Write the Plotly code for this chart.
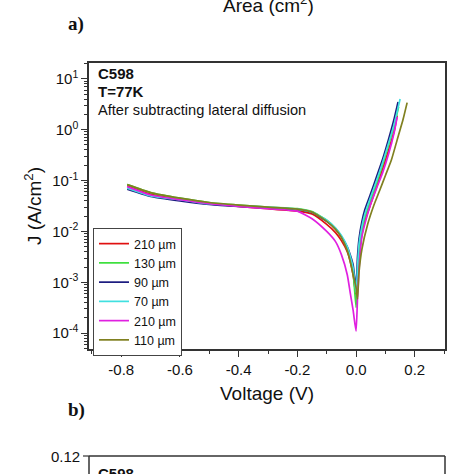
import plotly.graph_objects as go

# ---------------- data ----------------
series_names = ["210 µm", "130 µm", "90 µm", "70 µm", "210 µm", "110 µm"]
series_colors = ["#e01010", "#3ee03e", "#1c1c80", "#40e0e0", "#e020e0", "#808020"]

V_rev = [-0.78, -0.70, -0.60, -0.50, -0.40, -0.30, -0.20, -0.15, -0.10, -0.07, -0.05, -0.03, -0.02, -0.01]

V_red = V_rev + [0.0, 0.005, 0.01, 0.02, 0.03, 0.05, 0.07, 0.09, 0.11, 0.13, 0.14]
J_red = [7.9e-2, 5.4e-2, 4.2e-2, 3.5e-2, 3.1e-2, 2.8e-2, 2.5e-2, 2.2e-2, 1.38e-2, 9.5e-3, 6.6e-3, 4.0e-3, 2.6e-3, 1.4e-3,
         5.4e-4, 1.26e-3, 3.5e-3, 8.9e-3, 1.58e-2, 3.5e-2, 7.6e-2, 0.166, 0.38, 0.95, 1.9]

V_green = V_rev + [0.0, 0.005, 0.01, 0.02, 0.03, 0.05, 0.07, 0.09, 0.11, 0.13, 0.145]
J_green = [8.3e-2, 5.8e-2, 4.5e-2, 3.7e-2, 3.3e-2, 3.0e-2, 2.8e-2, 2.45e-2, 1.66e-2, 1.15e-2, 7.9e-3, 4.7e-3, 3.0e-3, 1.58e-3,
           3.2e-4, 1.26e-3, 4.0e-3, 1.0e-2, 1.9e-2, 4.2e-2, 8.9e-2, 0.20, 0.48, 1.2, 2.8]

V_navy = V_rev + [0.0, 0.005, 0.01, 0.02, 0.03, 0.05, 0.07, 0.09, 0.11, 0.13, 0.143]
J_navy = [6.8e-2, 4.9e-2, 4.0e-2, 3.4e-2, 3.1e-2, 2.9e-2, 2.7e-2, 2.35e-2, 1.58e-2, 1.12e-2, 7.9e-3, 5.0e-3, 3.5e-3, 2.2e-3,
          7.9e-4, 3.2e-3, 7.1e-3, 1.58e-2, 2.7e-2, 5.6e-2, 0.12, 0.26, 0.63, 1.66, 3.5]

V_cyan = V_rev + [0.0, 0.005, 0.01, 0.02, 0.03, 0.05, 0.07, 0.09, 0.11, 0.13, 0.15]
J_cyan = [7.1e-2, 5.0e-2, 4.2e-2, 3.5e-2, 3.2e-2, 3.0e-2, 2.75e-2, 2.4e-2, 1.66e-2, 1.17e-2, 8.3e-3, 5.0e-3, 3.3e-3, 1.9e-3,
          6.3e-4, 2.0e-3, 5.6e-3, 1.26e-2, 2.2e-2, 4.8e-2, 0.10, 0.22, 0.52, 1.3, 4.0]

V_magenta = V_rev + [0.0, 0.005, 0.01, 0.02, 0.03, 0.05, 0.07, 0.09, 0.11, 0.13, 0.14]
J_magenta = [7.6e-2, 5.2e-2, 4.2e-2, 3.5e-2, 3.1e-2, 2.8e-2, 2.5e-2, 1.78e-2, 1.0e-2, 6.3e-3, 3.5e-3, 1.41e-3, 6.3e-4, 2.8e-4,
             1.1e-4, 5.0e-4, 1.78e-3, 7.9e-3, 1.41e-2, 3.5e-2, 7.1e-2, 0.14, 0.32, 0.89, 1.78]

V_olive = V_rev + [0.0, 0.005, 0.01, 0.02, 0.04, 0.06, 0.08, 0.10, 0.12, 0.14, 0.16, 0.174]
J_olive = [8.3e-2, 5.8e-2, 4.5e-2, 3.7e-2, 3.3e-2, 3.0e-2, 2.75e-2, 2.4e-2, 1.58e-2, 1.1e-2, 7.6e-3, 4.2e-3, 2.6e-3, 1.41e-3,
           7.9e-4, 4.7e-4, 1.58e-3, 4.5e-3, 1.41e-2, 3.2e-2, 6.3e-2, 0.126, 0.25, 0.63, 1.58, 3.4]

all_V = [V_red, V_green, V_navy, V_cyan, V_magenta, V_olive]
all_J = [J_red, J_green, J_navy, J_cyan, J_magenta, J_olive]

x_ticks = [-0.8, -0.6, -0.4, -0.2, 0.0, 0.2]
x_ticklabels = ["-0.8", "-0.6", "-0.4", "-0.2", "0.0", "0.2"]
x_minor = [-0.9, -0.7, -0.5, -0.3, -0.1, 0.1, 0.3]
y_ticks = [1e-4, 1e-3, 1e-2, 1e-1, 1e0, 1e1]
y_ticklabels = ["10<sup>-4</sup>", "10<sup>-3</sup>", "10<sup>-2</sup>", "10<sup>-1</sup>", "10<sup>0</sup>", "10<sup>1</sup>"]
y_minor = [m * d for d in [1e-5, 1e-4, 1e-3, 1e-2, 1e-1, 1e0, 1e1] for m in range(2, 10)]

# ---------------- layout helpers ----------------
W, H = 474, 474
L, R, T, B = 89, 445, 63, 349


def px_x(p):
    return (p - L) / (R - L)


def px_y(p):
    return (B - p) / (B - T)


FONT = "Liberation Sans, Arial, sans-serif"
AXC = "#333333"

fig = go.Figure()
for name, col, v, j in zip(series_names, series_colors, all_V, all_J):
    fig.add_trace(go.Scatter(x=v, y=j, mode="lines", name=name,
                             line=dict(color=col, width=1.7, shape="spline", smoothing=0.5)))

fig.update_layout(
    width=W, height=H,
    margin=dict(l=L, r=W - R, t=T, b=H - B),
    paper_bgcolor="white", plot_bgcolor="white",
    font=dict(family=FONT, color="#111111", size=14),
    showlegend=True,
    legend=dict(x=px_x(93), y=px_y(228), xanchor="left", yanchor="top",
                bgcolor="white", bordercolor="#444444", borderwidth=1,
                font=dict(size=12.5, family=FONT), tracegroupgap=0,
                itemwidth=30),
)

fig.update_xaxes(range=[-0.91, 0.303], tickmode="array", tickvals=x_ticks, ticktext=x_ticklabels,
                 ticks="outside", ticklen=6, tickwidth=1.2, tickcolor=AXC,
                 minor=dict(tickmode="array", tickvals=x_minor, ticks="outside", ticklen=3,
                            tickcolor=AXC, showgrid=False),
                 showline=True, linecolor=AXC, linewidth=1.5, mirror=True,
                 showgrid=False, zeroline=False,
                 tickfont=dict(size=15, family=FONT),
                 title=dict(text="Voltage (V)", font=dict(size=19, family=FONT), standoff=10))

fig.update_yaxes(type="log", range=[-4.31, 1.31], tickmode="array", tickvals=y_ticks, ticktext=y_ticklabels,
                 ticks="outside", ticklen=6, tickwidth=1.2, tickcolor=AXC,
                 minor=dict(tickmode="array", tickvals=y_minor, ticks="outside", ticklen=3,
                            tickcolor=AXC, showgrid=False),
                 showline=True, linecolor=AXC, linewidth=1.5, mirror=True,
                 showgrid=False, zeroline=False,
                 tickfont=dict(size=15, family=FONT),
                 title=dict(text="J (A/cm<sup>2</sup>)", font=dict(size=19, family=FONT), standoff=6))

# in-plot annotations
fig.add_annotation(x=px_x(96), y=px_y(73), xref="paper", yref="paper", xanchor="left", yanchor="middle",
                   text="<b>C598</b>", showarrow=False, font=dict(size=15, family=FONT))
fig.add_annotation(x=px_x(96), y=px_y(92), xref="paper", yref="paper", xanchor="left", yanchor="middle",
                   text="<b>T=77K</b>", showarrow=False, font=dict(size=15, family=FONT))
fig.add_annotation(x=px_x(96), y=px_y(110), xref="paper", yref="paper", xanchor="left", yanchor="middle",
                   text="After subtracting lateral diffusion", showarrow=False, font=dict(size=14.6, family=FONT))

# surrounding page content (cut from the figure page)
fig.add_annotation(x=px_x(268), y=px_y(4), xref="paper", yref="paper", xanchor="center", yanchor="middle",
                   text="Area (cm<sup>2</sup>)", showarrow=False, font=dict(size=19, family=FONT))
fig.add_annotation(x=px_x(66), y=px_y(24), xref="paper", yref="paper", xanchor="left", yanchor="middle",
                   text="<b>a)</b>", showarrow=False, font=dict(size=19, family="Liberation Serif, Times New Roman, serif"))
fig.add_annotation(x=px_x(66), y=px_y(410), xref="paper", yref="paper", xanchor="left", yanchor="middle",
                   text="<b>b)</b>", showarrow=False, font=dict(size=19, family="Liberation Serif, Times New Roman, serif"))
fig.add_annotation(x=px_x(82), y=px_y(456), xref="paper", yref="paper", xanchor="right", yanchor="middle",
                   text="0.12", showarrow=False, font=dict(size=15, family=FONT))
fig.add_annotation(x=px_x(96), y=px_y(473), xref="paper", yref="paper", xanchor="left", yanchor="middle",
                   text="<b>C598</b>", showarrow=False, font=dict(size=15, family=FONT))

# lower panel frame (top edge, left/right sides, first tick)
fig.add_shape(type="line", xref="paper", yref="paper", x0=px_x(L), x1=px_x(R), y0=px_y(456), y1=px_y(456),
              line=dict(color=AXC, width=1.5))
fig.add_shape(type="line", xref="paper", yref="paper", x0=px_x(L), x1=px_x(L), y0=px_y(456), y1=px_y(480),
              line=dict(color=AXC, width=1.5))
fig.add_shape(type="line", xref="paper", yref="paper", x0=px_x(R), x1=px_x(R), y0=px_y(456), y1=px_y(480),
              line=dict(color=AXC, width=1.5))
fig.add_shape(type="line", xref="paper", yref="paper", x0=px_x(83), x1=px_x(L), y0=px_y(456), y1=px_y(456),
              line=dict(color=AXC, width=1.2))

fig.write_html("out.html")
